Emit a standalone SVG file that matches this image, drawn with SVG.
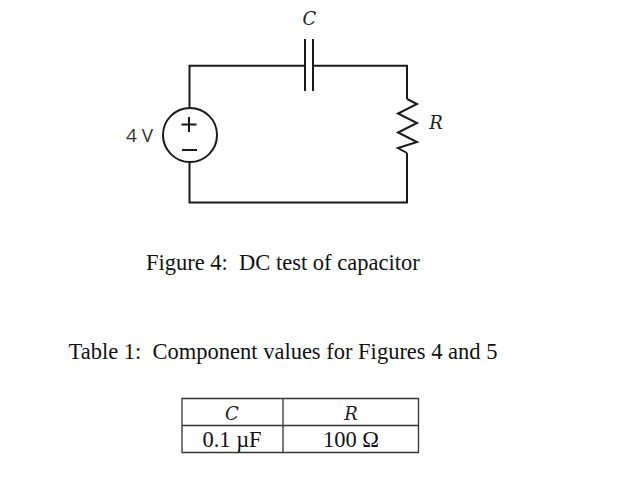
<svg xmlns="http://www.w3.org/2000/svg" width="618" height="490" viewBox="0 0 618 490">
<style>
.w{fill:none;stroke:#1a1a1a;stroke-width:2}
.t{fill:none;stroke:#333;stroke-width:1.3}
.s{font-family:"Liberation Serif",serif;font-size:22.500px;fill:#111;white-space:pre}
.c{font-family:"Liberation Serif",serif;font-size:22.500px;fill:#111;text-anchor:middle}
.i{font-family:"DejaVu Serif","Liberation Serif",serif;font-style:italic;font-size:18px;fill:#222;text-anchor:middle}
</style>
<rect width="618" height="490" fill="#fff"/>
<g id="connectors">
<path class="w" d="M189.500 108V65.700H305M313 65.700H407V99M407 153V202.500H189.500V162"/>
</g>
<g id="capacitor">
<path class="w" d="M305 39V91M313 39V91"/>
<text class="i" x="309.500" y="25">C</text>
</g>
<g id="resistor">
<path class="w" d="M407 99L417 104L398 113.500L417 123L398 132.500L417 142L398 148L407 153"/>
<text class="i" x="436" y="129">R</text>
</g>
<g id="source">
<circle class="w" cx="190" cy="135" r="27"/>
<path class="w" d="M189 117V132M181.500 124.500H196.500M182 150H197"/>
<text x="139.500" y="142" font-family="'Open Sans','Liberation Sans',sans-serif" font-size="19" fill="#333" text-anchor="middle">4 V</text>
</g>
<g id="caption-figure"><text class="s" x="146" y="270" xml:space="preserve">Figure 4:  DC test of capacitor</text></g>
<g id="caption-table"><text class="s" x="68.500" y="359" xml:space="preserve">Table 1:  Component values for Figures 4 and 5</text></g>
<g id="table">
<path class="t" d="M182 398.500H418.500V452.500H182ZM182 425.500H418.500M283 398.500V452.500"/>
<text class="i" x="232" y="420">C</text>
<text class="i" x="351" y="420">R</text>
<text class="c" x="232" y="447">0.1 µF</text>
<text class="c" x="351" y="447">100 Ω</text>
</g>
</svg>
